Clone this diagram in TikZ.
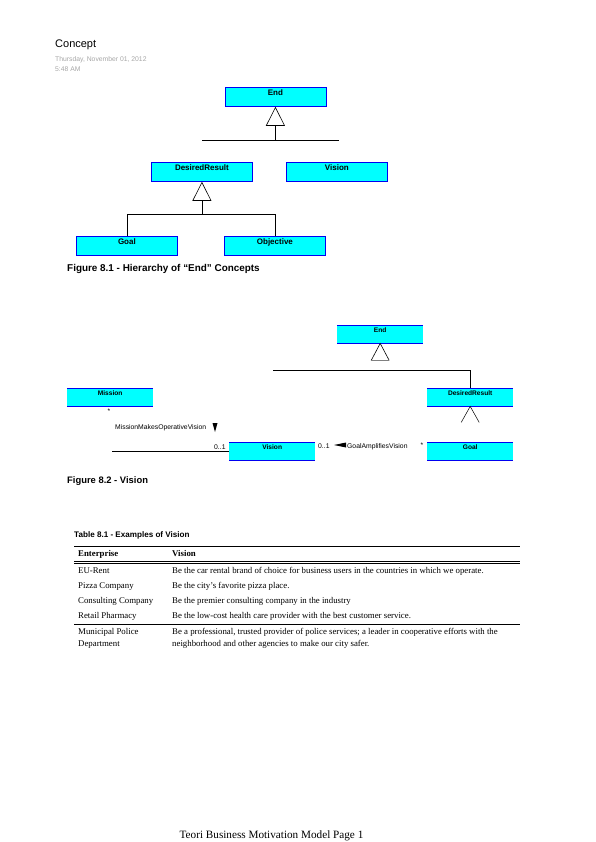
\documentclass[tikz,border=0pt]{standalone}
\usepackage{fontspec}
\setmainfont{Liberation Serif}
\setsansfont{Liberation Sans}
\usetikzlibrary{arrows.meta}
\def\fsize#1{\fontsize{#1}{#1}\selectfont}
\definecolor{boxcyan}{RGB}{0,255,255}
\definecolor{boxblue}{RGB}{0,0,240}
\begin{document}
\begin{tikzpicture}[x=1pt,y=-1pt,
				cls/.style={draw=boxblue,fill=boxcyan,line width=0.8pt,minimum width=101pt,minimum height=19pt,anchor=north west,inner sep=0pt,
					label={[font=\sffamily\bfseries\fsize{8},anchor=north,inner sep=2.5pt]north:#1}},
				clsb/.style={fill=boxcyan,minimum width=86pt,minimum height=18pt,anchor=north west,inner sep=0pt,
					label={[font=\sffamily\bfseries\fsize{6.6},anchor=north,inner sep=3pt]north:#1},
					append after command={(\tikzlastnode.north west) edge[draw=boxblue,line width=0.8pt] (\tikzlastnode.north east)
						(\tikzlastnode.south west) edge[draw=boxblue,line width=0.8pt] (\tikzlastnode.south east)}},
				gen/.style={line width=0.6pt,-{Triangle[open,length=19pt,width=19pt]}},
				rel/.style={anchor=base west,inner sep=0pt,font=\sffamily\fsize{6.8}},
				capt/.style={anchor=base west,inner sep=0pt,font=\sffamily\bfseries\fsize{9.4}},
				cell/.style={anchor=base west,inner sep=0pt,font=\fsize{8.8}},
				rule/.style={line width=#1}]
				\useasboundingbox (0,0) rectangle (595,842);
				\node [anchor=base west,inner sep=0pt,font=\sffamily\fsize{11}] (title) at (55,48) {Concept};
				\node [anchor=base west,inner sep=0pt,font=\sffamily\fsize{6.8},text=gray!70] (date) at (55,62) {Thursday, November 01, 2012};
				\node [anchor=base west,inner sep=0pt,font=\sffamily\fsize{6.8},text=gray!70] (time) at (55,72) {5:48 AM};
				\node [cls=End]			(End)		at (224.5,87)	{};
				\node [cls=DesiredResult]	(DesiredResult)	at (151,162)	{};
				\node [cls=Vision]		(Vision)	at (286,162)	{};
				\node [cls=Goal]		(Goal)		at (76,236)	{};
				\node [cls=Objective]		(Objective)	at (224,236)	{};
				\coordinate (barA) at (202,140);
				\coordinate (barB) at (339,140);
				\coordinate (joinA) at (End.south |- barA);
				\draw [line width=0.6pt] (barA) -- (barB);
				\draw [gen] (joinA) -- (End.south);
				\draw [line width=0.6pt] (Goal.north) -- ++(0,-22) -| (Objective.north);
				\coordinate (joinB) at (DesiredResult.south |- 0,214);
				\draw [gen] (joinB) -- (DesiredResult.south);
				\node [capt,font=\sffamily\bfseries\fsize{9.9}] (fig1) at (67,271) {Figure 8.1 - Hierarchy of “End” Concepts};
				\node [clsb=End]		(End2)		at (337,325)	{};
				\node [clsb=DesiredResult]	(DesiredResult2) at (427,388)	{};
				\node [clsb=Mission]		(Mission)	at (67,388)	{};
				\node [clsb=Vision]		(Vision2)	at (229,442)	{};
				\node [clsb=Goal]		(Goal2)		at (427,442)	{};
				\draw [line width=0.6pt] (End2.south) ++(-9,17) -- (End2.south) -- ++(9,17);
				\draw [line width=0.6pt,gray] (End2.south) ++(-9,17) -- ++(18,0);
				\draw [line width=0.5pt] (DesiredResult2.south) ++(-9,16) -- (DesiredResult2.south) -- ++(9,16);
				\coordinate (barC) at (273,370);
				\draw [line width=0.6pt] (barC) -| (DesiredResult2.north);
				\coordinate (assocA) at (112,451);
				\draw [line width=0.6pt] (assocA) -- (Vision2.west |- assocA);
				\node [rel] (starA) at (107.5,413) {*};
				\node [rel] (mmov) at (115,429) {MissionMakesOperativeVision};
				\fill (212.5,423) -- (217.5,423) -- (215,432) -- cycle;
				\node [rel] (multA) at (214,449) {0..1};
				\node [rel] (multB) at (318,448) {0..1};
				\fill (334,445) -- (346,442.5) -- (346,447.5) -- cycle;
				\node [rel] (gav) at (347,448) {GoalAmplifiesVision};
				\node [rel] (starB) at (420.5,447) {*};
				\node [capt] (fig2) at (67,483) {Figure 8.2 - Vision};
				\node [anchor=base west,inner sep=0pt,font=\sffamily\bfseries\fsize{8.1}] (tab1) at (74,537) {Table 8.1 - Examples of Vision};
				\draw [rule=1pt] (74,546) -- (520,546);
				\node [cell,font=\bfseries\fsize{8.8}] (hEnt) at (78,556) {Enterprise};
				\node [cell,font=\bfseries\fsize{8.8}] (hVis) at (172,556) {Vision};
				\draw [rule=0.6pt] (74,561) -- (520,561);
				\draw [rule=0.6pt] (74,563.5) -- (520,563.5);
				\node [cell] (e1) at (78,573) {EU-Rent};
				\node [cell] (v1) at (172,573) {Be the car rental brand of choice for business users in the countries in which we operate.};
				\node [cell] (e2) at (78,588) {Pizza Company};
				\node [cell] (v2) at (172,588) {Be the city's favorite pizza place.};
				\node [cell] (e3) at (78,603) {Consulting Company};
				\node [cell] (v3) at (172,603) {Be the premier consulting company in the industry};
				\node [cell] (e4) at (78,618) {Retail Pharmacy};
				\node [cell] (v4) at (172,618) {Be the low-cost health care provider with the best customer service.};
				\draw [rule=0.8pt] (74,624) -- (520,624);
				\node [cell] (e5) at (78,634) {Municipal Police};
				\node [cell] (e5b) at (78,646) {Department};
				\node [cell] (v5) at (172,634) {Be a professional, trusted provider of police services; a leader in cooperative efforts with the};
				\node [cell] (v5b) at (172,646) {neighborhood and other agencies to make our city safer.};
				\node [anchor=base,inner sep=0pt,font=\fsize{11.2}] (foot) at (271.5,838) {Teori Business Motivation Model Page 1};
			\end{tikzpicture}
\end{document}
